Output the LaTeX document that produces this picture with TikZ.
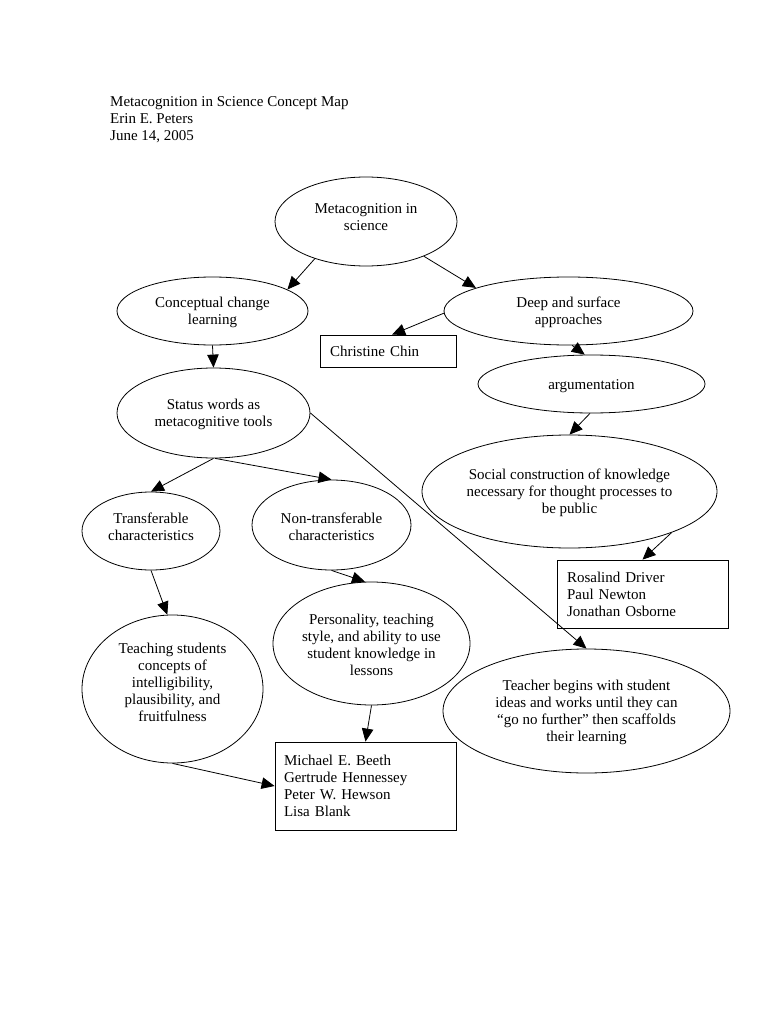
\documentclass[tikz,border=0pt]{standalone}
\usepackage{fontspec}
\setmainfont{Liberation Serif}
\usetikzlibrary{shapes.geometric,arrows.meta}
\begin{document}
\begin{tikzpicture}[x=1pt,y=-1pt,
  every node/.style={font=\fontsize{15}{17}\selectfont},
  ell/.style={draw, ellipse, inner sep=0pt, align=center, line width=0.8pt},
  bx/.style={draw, rectangle, inner xsep=10pt, inner ysep=0pt, align=left, line width=0.8pt},
  con/.style={line width=0.8pt, -{Triangle[length=13pt,width=11.5pt]}}]
\useasboundingbox[fill=white] (0,0) rectangle (768,1024);

\node[anchor=north west, align=left, inner sep=0pt] (title) at (110,96.5)
  {Metacognition in Science Concept Map\\Erin E. Peters\\June 14, 2005};

\node[ell, minimum width=182pt, minimum height=89pt] (meta) at (366,221.5)
  {\rule{0pt}{14pt}Metacognition in\\science\rule[-13pt]{0pt}{1pt}};
\node[ell, minimum width=191pt, minimum height=68pt] (concept) at (212.5,311)
  {\rule{0pt}{14pt}Conceptual change\\learning};
\node[ell, minimum width=249pt, minimum height=68pt] (deep) at (568.5,311)
  {\rule{0pt}{14pt}Deep and surface\\approaches};
\node[bx, minimum width=136pt, minimum height=32pt, text width=116pt] (chin) at (388,351)
  {Christine Chin};
\node[ell, minimum width=227pt, minimum height=58pt] (arg) at (591.5,384)
  {\rule{0pt}{14pt}argumentation};
\node[ell, minimum width=193pt, minimum height=90pt] (status) at (213.5,413)
  {\rule{0pt}{14pt}Status words as\\metacognitive tools};
\node[ell, minimum width=295pt, minimum height=113pt] (social) at (569.5,491.5)
  {\rule{0pt}{14pt}Social construction of knowledge\\necessary for thought processes to\\be public};
\node[bx, minimum width=171pt, minimum height=68pt, text width=151pt] (rosalind) at (642.5,594)
  {Rosalind Driver\\Paul Newton\\Jonathan Osborne};
\node[ell, minimum width=138pt, minimum height=78pt] (trans) at (151,531)
  {\rule{0pt}{14pt}Transferable\\characteristics\rule[-11.5pt]{0pt}{1pt}};
\node[ell, minimum width=159pt, minimum height=90pt] (nontrans) at (331.5,525)
  {\rule{0pt}{14pt}Non-transferable\\characteristics};
\node[ell, minimum width=197pt, minimum height=123pt] (personality) at (371.5,643.5)
  {\rule{0pt}{14pt}Personality, teaching\\style, and ability to use\\student knowledge in\\lessons};
\node[ell, minimum width=181pt, minimum height=148pt] (teaching) at (172.5,689)
  {\rule{0pt}{14pt}Teaching students\\concepts of\\intelligibility,\\plausibility, and\\fruitfulness\rule[-17.5pt]{0pt}{1pt}};
\node[ell, minimum width=287pt, minimum height=124pt] (teacher) at (586.5,711)
  {\rule{0pt}{14pt}Teacher begins with student\\ideas and works until they can\\“go no further” then scaffolds\\their learning};
\node[bx, inner xsep=9pt, minimum width=181pt, minimum height=88pt, text width=163pt] (michael) at (365.5,786)
  {Michael E. Beeth\\Gertrude Hennessey\\Peter W. Hewson\\Lisa Blank};

\draw[con] (meta.216) -- (concept.16);
\draw[con] (meta.329) -- (deep.166);
\draw[con] (deep.181) -- (chin.76);
\draw[con] (concept.south) -- (status.north);
\draw[con] (deep.276) -- (arg.103);
\draw[con] (arg.267) -- (social.north);
\draw[con] (social.338) -- (rosalind.north);
\draw[con] (status.south) -- (trans.north);
\draw[con] (status.272) -- (nontrans.north);
\draw[con] (status.east) -- (teacher.north);
\draw[con] (trans.south) -- (teaching.94);
\draw[con] (nontrans.south) -- (personality.96);
\draw[con] (personality.south) -- (michael.north);
\draw[con] (teaching.south) -- (michael.west);
\end{tikzpicture}
\end{document}
